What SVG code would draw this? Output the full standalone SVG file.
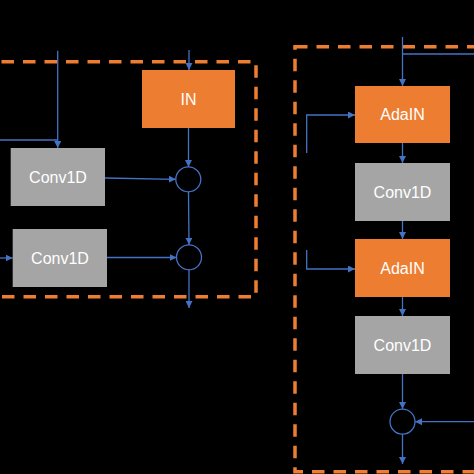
<svg xmlns="http://www.w3.org/2000/svg" width="474" height="474" viewBox="0 0 474 474">
<defs>
<marker id="ah" viewBox="0 0 10 10" refX="10" refY="5" markerWidth="7" markerHeight="7" markerUnits="userSpaceOnUse" orient="auto">
<path d="M0,0 L10,5 L0,10 z" fill="#4472C4"/>
</marker>
</defs>
<style>
.dash{fill:none;stroke:#ED7D31;stroke-width:3.5;stroke-dasharray:12.5 9}
.or{fill:#ED7D31}
.gr{fill:#A5A5A5}
.t{fill:#ffffff;font-family:"Liberation Sans",Arial,sans-serif;font-size:16px;text-anchor:middle;dominant-baseline:central}
.ln{fill:none;stroke:#4472C4;stroke-width:1.3}
.ar{fill:none;stroke:#4472C4;stroke-width:1.3;marker-end:url(#ah)}
.sum{fill:none;stroke:#4472C4;stroke-width:1.3}
</style>
<rect width="474" height="474" fill="#000000"/>
<g id="frames">
<rect class="dash" x="-20" y="61.7" width="276" height="235"/>
<rect class="dash" x="295" y="46.7" width="200" height="425"/>
</g>
<g id="connectors">
<path class="ln" d="M0,140 H57.7"/>
<path class="ar" d="M57.7,50.7 V148"/>
<path class="ar" d="M189,50 V70"/>
<path class="ar" d="M188.5,128 V167"/>
<path class="ar" d="M105,178 L175.8,179.3"/>
<path class="ar" d="M188.5,191.8 L189,244.8"/>
<path class="ar" d="M0,258 H12.7"/>
<path class="ar" d="M107,257.5 H176.5"/>
<path class="ar" d="M189,269.8 V308"/>
<path class="ln" d="M402.5,54 H474"/>
<path class="ar" d="M402.5,37 V86"/>
<path class="ar" d="M306.7,153 V115 H355"/>
<path class="ar" d="M306.7,250 V269 H355"/>
<path class="ar" d="M402.5,143 V163"/>
<path class="ar" d="M402.5,221 V239"/>
<path class="ar" d="M402.5,297 V316"/>
<path class="ar" d="M402.5,374 V409"/>
<path class="ar" d="M474,421.7 H415"/>
<path class="ar" d="M402.5,434.2 V464"/>
</g>
<g id="in1"><rect class="or" x="142" y="70" width="93" height="58"/><text class="t" x="188.5" y="99">IN</text></g>
<g id="conv1"><rect class="gr" x="10.7" y="148" width="94.3" height="58"/><text class="t" x="58" y="177">Conv1D</text></g>
<g id="conv2"><rect class="gr" x="12.7" y="229" width="94.3" height="58"/><text class="t" x="60" y="258">Conv1D</text></g>
<g id="sum1"><circle class="sum" cx="188.3" cy="179.3" r="12.5"/></g>
<g id="sum2"><circle class="sum" cx="189" cy="257.3" r="12.5"/></g>
<g id="adain1"><rect class="or" x="355" y="86" width="95" height="57"/><text class="t" x="402.5" y="114.5">AdaIN</text></g>
<g id="conv3"><rect class="gr" x="355" y="163" width="95" height="58"/><text class="t" x="402.5" y="192">Conv1D</text></g>
<g id="adain2"><rect class="or" x="355" y="239" width="95" height="58"/><text class="t" x="402.5" y="268">AdaIN</text></g>
<g id="conv4"><rect class="gr" x="355" y="316" width="95" height="58"/><text class="t" x="402.5" y="345">Conv1D</text></g>
<g id="sum3"><circle class="sum" cx="402.5" cy="421.7" r="12.5"/></g>
</svg>
